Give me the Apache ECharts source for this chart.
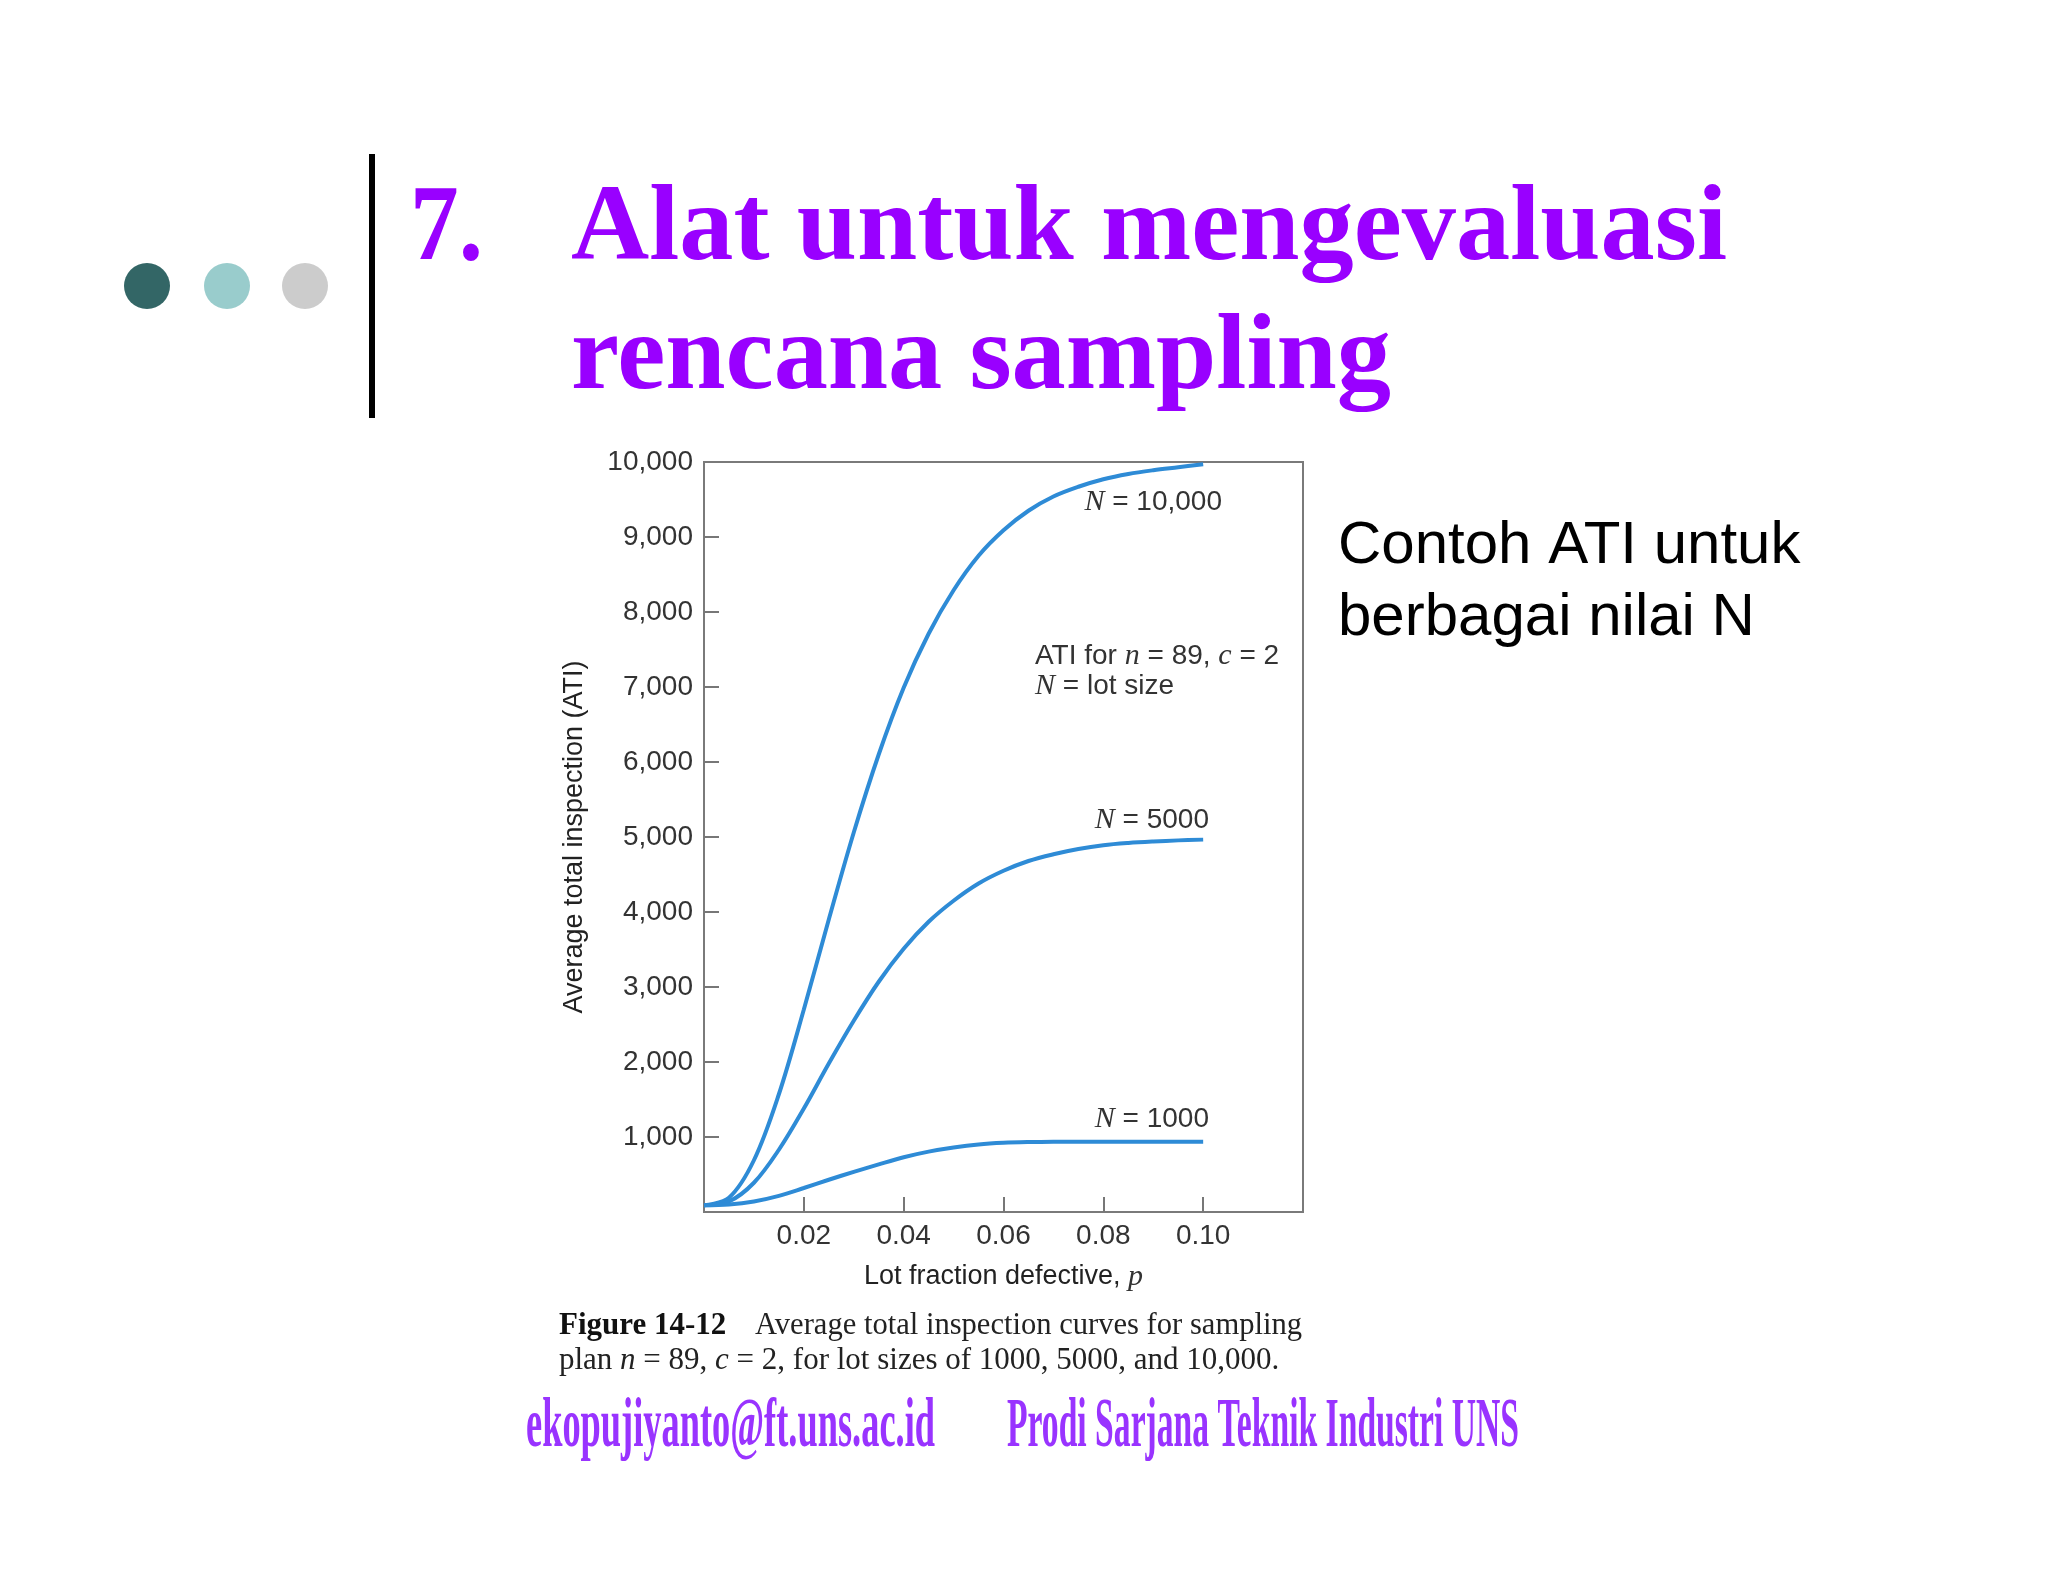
<!DOCTYPE html>
<html>
<head>
<meta charset="utf-8">
<script src="https://cdn.jsdelivr.net/npm/echarts@6/dist/echarts.min.js"></script>
<style>
html,body{margin:0;padding:0;background:#fff;}
#c{width:2048px;height:1582px;}
</style>
</head>
<body>
<div id="c"></div>
<script>
// ---- data ----
const P = [0, 0.005, 0.01, 0.015, 0.02, 0.025, 0.03, 0.035, 0.04, 0.045, 0.05, 0.055, 0.06, 0.065, 0.07, 0.075, 0.08, 0.085, 0.09, 0.095, 0.10];
const ATI_N10000 = [89, 190, 690, 1570, 2700, 3900, 5060, 6100, 6990, 7710, 8290, 8750, 9090, 9350, 9540, 9670, 9770, 9840, 9890, 9930, 9970];
const ATI_N5000 = [89, 140, 390, 830, 1380, 1980, 2550, 3070, 3510, 3870, 4150, 4380, 4550, 4680, 4770, 4840, 4890, 4920, 4940, 4955, 4965];
const ATI_N1000 = [89, 100, 140, 215, 320, 430, 535, 635, 730, 805, 860, 900, 922, 932, 936, 937, 937, 937, 937, 937, 937];
const X_TICKS = [0.02, 0.04, 0.06, 0.08, 0.10];
const Y_TICKS = [1000, 2000, 3000, 4000, 5000, 6000, 7000, 8000, 9000];
const Y_LABELS = [1000, 2000, 3000, 4000, 5000, 6000, 7000, 8000, 9000, 10000];
const SERIES_NAMES = ['N = 10,000', 'N = 5000', 'N = 1000'];

const TITLE_NUM = '7.';
const TITLE_L1 = 'Alat untuk mengevaluasi';
const TITLE_L2 = 'rencana sampling';
const SIDE_L1 = 'Contoh ATI untuk';
const SIDE_L2 = 'berbagai nilai N';
const CAP_BOLD = 'Figure 14-12';
const CAP_L1 = 'Average total inspection curves for sampling';
const FOOT_1 = 'ekopujiyanto@ft.uns.ac.id';
const FOOT_2 = 'Prodi Sarjana Teknik Industri UNS';

const SANS = "'Liberation Sans', Arial, sans-serif";
const SERIF = "'Liberation Serif', 'Times New Roman', serif";
const BLUE = '#2e8bd6';

const mctx = document.createElement('canvas').getContext('2d');
function fit(text, font, target) {
  mctx.font = font;
  return target / mctx.measureText(text).width;
}
const ital = {fontFamily: SERIF, fontStyle: 'italic', fontSize: 30, color: '#333'};

function pairs(ys) { return P.map((p, i) => [p, ys[i]]); }

const chart = echarts.init(document.getElementById('c'), null, {renderer: 'canvas'});
const lineSeries = (name, ys) => ({
  name, type: 'line', data: pairs(ys), smooth: 0.35,
  showSymbol: false, symbol: 'none', lineStyle: {color: BLUE, width: 4}, itemStyle: {color: BLUE}
});

const titleFont = `bold 108px ${SERIF}`;
const footFont = `bold 70px ${SERIF}`;

chart.setOption({
  animation: false,
  backgroundColor: '#fff',
  grid: {left: 704, top: 462, width: 599, height: 750, show: true, borderColor: '#7a7a7a', borderWidth: 2, backgroundColor: '#fff'},
  xAxis: {
    type: 'value', min: 0, max: 0.12, interval: 0.02,
    axisLine: {show: false}, splitLine: {show: false},
    axisTick: {show: true, inside: true, length: 15, customValues: X_TICKS, lineStyle: {color: '#777', width: 2}},
    axisLabel: {customValues: X_TICKS, formatter: v => v.toFixed(2), fontFamily: SANS, fontSize: 28, color: '#333', margin: 10},
    name: 'Lot fraction defective, {i|p}', nameLocation: 'middle', nameGap: 50,
    nameTextStyle: {fontFamily: SANS, fontSize: 27, color: '#222', rich: {i: ital}}
  },
  yAxis: {
    type: 'value', min: 0, max: 10000, interval: 1000,
    axisLine: {show: false}, splitLine: {show: false},
    axisTick: {show: true, inside: true, length: 15, customValues: Y_TICKS, lineStyle: {color: '#777', width: 2}},
    axisLabel: {customValues: Y_LABELS, formatter: v => v.toLocaleString('en-US'), fontFamily: SANS, fontSize: 28, color: '#333', margin: 11},
    name: 'Average total inspection (ATI)', nameLocation: 'middle', nameGap: 116,
    nameTextStyle: {fontFamily: SANS, fontSize: 27, color: '#222'}
  },
  series: [
    lineSeries(SERIES_NAMES[0], ATI_N10000),
    lineSeries(SERIES_NAMES[1], ATI_N5000),
    lineSeries(SERIES_NAMES[2], ATI_N1000)
  ],
  graphic: [
    // decorative dots and bar
    {type: 'circle', shape: {cx: 147, cy: 286, r: 23}, style: {fill: '#336666'}},
    {type: 'circle', shape: {cx: 227, cy: 286, r: 23}, style: {fill: '#99cccc'}},
    {type: 'circle', shape: {cx: 305, cy: 286, r: 23}, style: {fill: '#cccccc'}},
    {type: 'rect', shape: {x: 369, y: 154, width: 6, height: 264}, style: {fill: '#000'}},
    // title
    {type: 'text', x: 410, y: 231, scaleX: fit(TITLE_NUM, titleFont, 73), style: {text: TITLE_NUM, font: titleFont, fill: '#9900ff', textAlign: 'left', verticalAlign: 'middle'}},
    {type: 'text', x: 571, y: 231, scaleX: fit(TITLE_L1, titleFont, 1156), style: {text: TITLE_L1, font: titleFont, fill: '#9900ff', textAlign: 'left', verticalAlign: 'middle'}},
    {type: 'text', x: 571, y: 360, scaleX: fit(TITLE_L2, titleFont, 820), style: {text: TITLE_L2, font: titleFont, fill: '#9900ff', textAlign: 'left', verticalAlign: 'middle'}},
    // side text
    {type: 'text', x: 1338, y: 546, style: {text: SIDE_L1, font: `60px ${SANS}`, fill: '#000', textAlign: 'left', verticalAlign: 'middle'}},
    {type: 'text', x: 1338, y: 618, style: {text: SIDE_L2, font: `60px ${SANS}`, fill: '#000', textAlign: 'left', verticalAlign: 'middle'}},
    // in-chart annotations
    {type: 'text', x: 1222, y: 502, style: {text: '{i|N} = 10,000', fontFamily: SANS, fontSize: 28, fill: '#333', textAlign: 'right', verticalAlign: 'middle', rich: {i: ital}}},
    {type: 'text', x: 1209, y: 820, style: {text: '{i|N} = 5000', fontFamily: SANS, fontSize: 28, fill: '#333', textAlign: 'right', verticalAlign: 'middle', rich: {i: ital}}},
    {type: 'text', x: 1209, y: 1119, style: {text: '{i|N} = 1000', fontFamily: SANS, fontSize: 28, fill: '#333', textAlign: 'right', verticalAlign: 'middle', rich: {i: ital}}},
    {type: 'text', x: 1035, y: 656, style: {text: 'ATI for {i|n} = 89, {i|c} = 2', fontFamily: SANS, fontSize: 28, fill: '#333', textAlign: 'left', verticalAlign: 'middle', rich: {i: ital}}},
    {type: 'text', x: 1035, y: 686, style: {text: '{i|N} = lot size', fontFamily: SANS, fontSize: 28, fill: '#333', textAlign: 'left', verticalAlign: 'middle', rich: {i: ital}}},
    // caption
    {type: 'text', x: 559, y: 1326, style: {text: CAP_BOLD, font: `bold 31px ${SERIF}`, fill: '#111', textAlign: 'left', verticalAlign: 'middle'}},
    {type: 'text', x: 755, y: 1326, scaleX: fit(CAP_L1, `31px ${SERIF}`, 547), style: {text: CAP_L1, font: `31px ${SERIF}`, fill: '#222', textAlign: 'left', verticalAlign: 'middle'}},
    {type: 'text', x: 559, y: 1361, style: {text: 'plan {i|n} = 89, {i|c} = 2, for lot sizes of 1000, 5000, and 10,000.', fontFamily: SERIF, fontSize: 31, fill: '#222', textAlign: 'left', verticalAlign: 'middle', rich: {i: {fontFamily: SERIF, fontStyle: 'italic', fontSize: 31, color: '#222'}}}},
    // footer
    {type: 'text', x: 526, y: 1428, scaleX: fit(FOOT_1, footFont, 409), style: {text: FOOT_1, font: footFont, fill: '#9933ff', textAlign: 'left', verticalAlign: 'middle'}},
    {type: 'text', x: 1007, y: 1428, scaleX: fit(FOOT_2, footFont, 512), style: {text: FOOT_2, font: footFont, fill: '#9933ff', textAlign: 'left', verticalAlign: 'middle'}}
  ]
});
</script>
</body>
</html>
